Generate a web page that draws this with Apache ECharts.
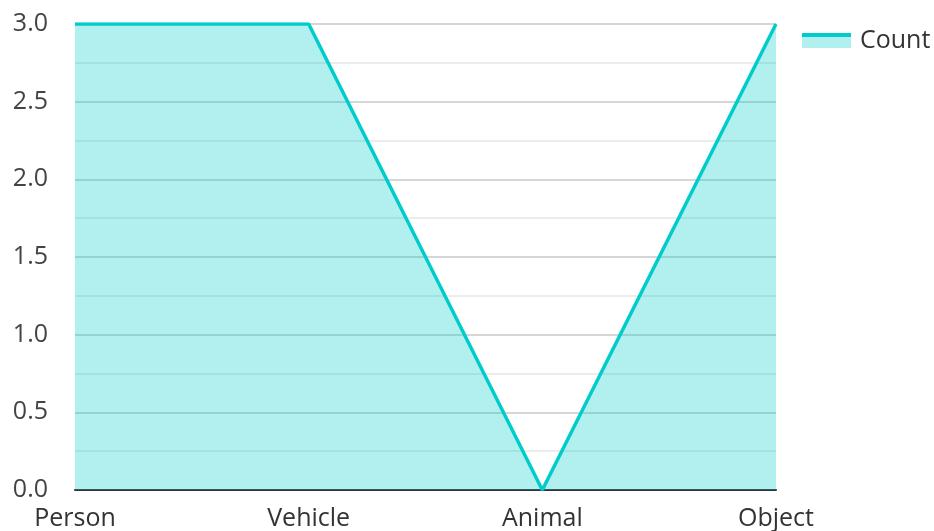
<!DOCTYPE html>
<html><head><meta charset="utf-8">
<script src="https://cdn.jsdelivr.net/npm/echarts@6/dist/echarts.min.js"></script>
<style>html,body{margin:0;padding:0;background:#fff}#c{width:934px;height:531px}</style>
</head><body><div id="c"></div>
<script>
const categories = ['Person', 'Vehicle', 'Animal', 'Object'];
const countValues = [3, 3, 0, 3];
const seriesName = 'Count';

const chart = echarts.init(document.getElementById('c'), null, {renderer: 'canvas'});
const font = '"Open Sans", sans-serif';
chart.setOption({
  animation: false,
  textStyle: {fontFamily: font},
  grid: {left: 75, right: 158, top: 24, bottom: 41, containLabel: false},
  legend: {
    left: 802, top: 28, padding: 0,
    itemWidth: 49, itemHeight: 15, itemGap: 10,
    icon: 'rect',
    itemStyle: {
      color: {type: 'linear', x: 0, y: 0, x2: 0, y2: 1, colorStops: [
        {offset: 0, color: '#00cccc'}, {offset: 0.27, color: '#00cccc'},
        {offset: 0.27, color: '#b2efef'}, {offset: 1, color: '#b2efef'}]},
      borderWidth: 0
    },
    textStyle: {fontSize: 25, color: '#333', fontFamily: font, padding: [0,0,10,4]},
    data: [seriesName]
  },
  xAxis: {
    type: 'category', data: categories, boundaryGap: false,
    axisLine: {lineStyle: {color: '#333', width: 2}},
    axisTick: {show: false},
    axisLabel: {fontSize: 25, color: '#333', margin: 16, fontFamily: font},
    splitLine: {show: false}
  },
  yAxis: {
    type: 'value', min: 0, max: 3, interval: 0.5,
    axisLine: {show: false}, axisTick: {show: false},
    axisLabel: {fontSize: 25, color: '#444', margin: 27, fontFamily: font,
      formatter: v => v.toFixed(1)},
    splitLine: {lineStyle: {color: '#c8c8c8', width: 1.5}},
    minorTick: {show: false, splitNumber: 2},
    minorSplitLine: {show: true, lineStyle: {color: '#e6e6e6', width: 1.5}}
  },
  series: [{
    name: seriesName, type: 'line', data: countValues,
    showSymbol: false, symbol: 'none',
    lineStyle: {color: '#00cccc', width: 3.5},
    itemStyle: {color: '#00cccc'},
    areaStyle: {color: '#00cccc', opacity: 0.3, origin: 'start'},
    z: 1
  }]
});
</script></body></html>
